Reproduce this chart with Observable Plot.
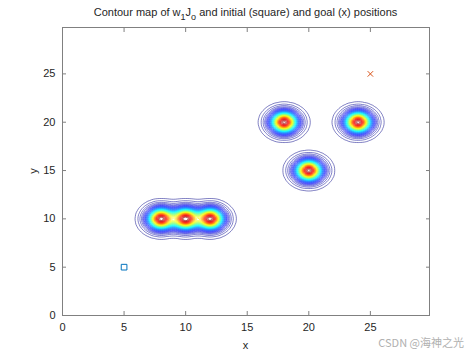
<!DOCTYPE html>
<html>
<head>
<meta charset="utf-8">
<script src="https://cdn.jsdelivr.net/npm/d3@7"></script>
<script src="https://cdn.jsdelivr.net/npm/@observablehq/plot@0.6"></script>
<style>
  body { margin: 0; background: #fff; }
</style>
</head>
<body>
<div id="chart"></div>
<script>
// Obstacle centres (x, y)
const obstacleX = [8, 10, 12, 18, 24, 20];
const obstacleY = [10, 10, 10, 20, 20, 15];
const obstacleWidth = 0.93;
// Initial (square) and goal (x) positions
const startPos = [{x: 5, y: 5}];
const goalPos = [{x: 25, y: 25}];
// Contour levels of w1*Jo (normalised)
const levels = [0.006,0.018,0.035,0.055,0.075,0.095,0.115,0.135,0.155,0.175,0.195,
  0.215,0.235,0.255,0.275,0.295,0.315,0.335,0.355,0.375,0.395,
  0.415,0.435,0.455,0.475,0.495,0.515,0.535,0.555,0.575,0.595,
  0.615,0.635,0.655,0.675,0.695,0.715,0.735,0.755,0.775,0.795,
  0.815,0.835,0.855,0.875,0.895,0.915,0.935,0.955,0.975];
// Ticks
const xTicks = [0, 5, 10, 15, 20, 25];
const yTicks = [0, 5, 10, 15, 20, 25];
const axisMax = 29.8;
// Jet colormap stops
const jetStops = [0, 0.125, 0.375, 0.625, 0.875, 1];
const jetColors = ["#000080", "#0000ff", "#00ffff", "#ffff00", "#ff0000", "#800000"];

function field(x, y) {
  let s = 0;
  for (let i = 0; i < obstacleX.length; i++) {
    const dx = x - obstacleX[i], dy = y - obstacleY[i];
    s += Math.exp(-(dx * dx + dy * dy) / (obstacleWidth * obstacleWidth));
  }
  return s;
}

const axisColor = "#808080";
const font = "'Liberation Sans', Arial, sans-serif";

const svg = Plot.plot({
  width: 474,
  height: 355,
  marginLeft: 62,
  marginRight: 45,
  marginTop: 27,
  marginBottom: 40,
  style: {fontFamily: font, fontSize: "11px", color: "#262626", background: "#fff"},
  x: {domain: [0, axisMax]},
  y: {domain: [0, axisMax]},
  color: {type: "linear", domain: jetStops, range: jetColors, clamp: true},
  marks: [
    Plot.contour({
      x1: 0, y1: 0, x2: axisMax, y2: axisMax,
      value: field,
      thresholds: levels,
      fill: "none",
      stroke: "value",
      strokeWidth: 0.5
    }),
    Plot.dot(startPos, {x: "x", y: "y", symbol: "square", r: 3.2, stroke: "#0072BD", strokeWidth: 1}),
    Plot.dot(goalPos, {x: "x", y: "y", symbol: "times", r: 2.6, stroke: "#D95319", strokeWidth: 1}),
    Plot.frame({stroke: axisColor}),
    Plot.axisX({anchor: "bottom", ticks: xTicks, tickSize: -4, tickPadding: 12, stroke: axisColor,
      label: null, tickFormat: d => String(d)}),
    Plot.axisX({anchor: "top", ticks: xTicks, tickSize: -4, stroke: axisColor, label: null, tickFormat: () => ""}),
    Plot.axisY({anchor: "left", ticks: yTicks, tickSize: -4, tickPadding: 11, stroke: axisColor,
      label: null, tickFormat: d => String(d)}),
    Plot.axisY({anchor: "right", ticks: yTicks, tickSize: -4, stroke: axisColor, label: null, tickFormat: () => ""})
  ]
});

const s = d3.select(svg);
// Title with subscripts
const t = s.append("text")
  .attr("x", 245.5).attr("y", 16)
  .attr("text-anchor", "middle")
  .attr("font-family", font).attr("font-size", 11).attr("fill", "#262626");
t.append("tspan").text("Contour map of w");
t.append("tspan").attr("dy", 3.5).attr("font-size", 9).text("1");
t.append("tspan").attr("dy", -3.5).text("J");
t.append("tspan").attr("dy", 3.5).attr("font-size", 9).text("o");
t.append("tspan").attr("dy", -3.5).text(" and initial (square) and goal (x) positions");
// Axis labels
s.append("text").attr("x", 245.5).attr("y", 349).attr("text-anchor", "middle")
  .attr("font-family", font).attr("font-size", 11).attr("fill", "#262626").text("x");
s.append("text").attr("transform", "translate(37,171) rotate(-90)").attr("text-anchor", "middle")
  .attr("font-family", font).attr("font-size", 11).attr("fill", "#262626").text("y");
// Watermark
s.append("text").attr("x", 464).attr("y", 347).attr("text-anchor", "end")
  .attr("font-family", "'Noto Sans CJK SC', sans-serif").attr("font-size", 11).attr("fill", "#b0b0b0")
  .text("CSDN @海神之光");

document.getElementById("chart").appendChild(svg);
</script>
</body>
</html>
